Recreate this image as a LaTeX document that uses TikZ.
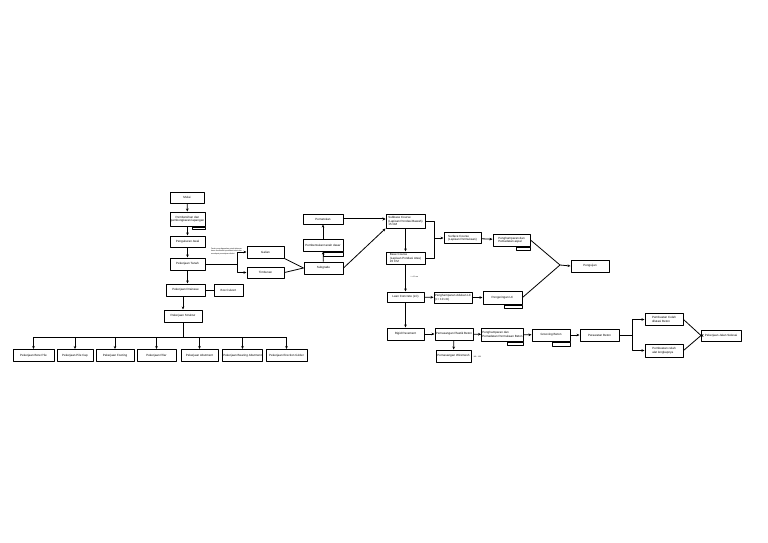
\documentclass[tikz,border=0pt]{standalone}
\usepackage{fontspec}
\setmainfont{Liberation Sans}
\usetikzlibrary{arrows.meta}
\begin{document}
\begin{tikzpicture}[x=1pt,y=-1pt,line join=round,
	kotak/.style={draw,line width=1pt,inner sep=0.8pt,align=center,font=\fontsize{3}{3.5}\selectfont},
	catatan/.style={draw,line width=0.6pt,inner sep=0pt},
	panah/.style={-{Stealth[length=3pt,width=2.6pt]},line width=0.8pt},
	garis/.style={line width=0.8pt},
	kecil/.style={inner sep=0pt,align=left,font=\fontsize{1.8}{2.6}\selectfont}]
	\useasboundingbox (0,0) rectangle (768,543);
	% kolom kiri
	\node[kotak,minimum width=34pt,minimum height=11pt] (mulai) at (187,197.5) {Mulai};
	\node[kotak,minimum width=35pt,minimum height=14pt] (bersih) at (187.5,219) {Pembersihan dan\\pembongkaran lapangan};
	\node[kotak,minimum width=35pt,minimum height=11pt] (ukur) at (187.5,241.5) {Pengukuran Awal};
	\node[kotak,minimum width=35pt,minimum height=12pt] (tanah) at (187.5,264) {Pekerjaan Tanah};
	\node[kotak,minimum width=39pt,minimum height=12pt] (drainase) at (185.5,290) {Pekerjaan Drainase};
	\node[kotak,minimum width=29pt,minimum height=12pt] (culvert) at (228.5,290) {Box Culvert};
	\node[kotak,minimum width=38pt,minimum height=12pt] (struktur) at (183,316) {Pekerjaan Struktur};
	\node[kecil] (ketTanah) at (226.5,251.5) {Tanah yang digunakan untuk timbunan\\harus memenuhi spesifikasi teknis dan\\mendapat persetujuan direksi};
	% pekerjaan struktur
	\foreach \nama/\x/\w/\teks in {borepile/33.5/41/Pekerjaan Bore Pile,pilecap/75/36/Pekerjaan Pile Cap,
		footing/115/38/Pekerjaan Footing,pilar/156.5/39/Pekerjaan Pilar,abutment/199.5/37/Pekerjaan Abutment,
		bearing/242.5/37/Pekerjaan Bearing Abutment,girder/286.5/41/Pekerjaan Erection Girder}{
		\node[kotak,minimum width=\w pt,minimum height=12pt] (\nama) at (\x,355.5) {\teks};
	}
	% tanah dasar
	\node[kotak,minimum width=37pt,minimum height=12pt] (galian) at (265.5,252) {Galian};
	\node[kotak,minimum width=37pt,minimum height=11pt] (timbunan) at (265.5,272.5) {Timbunan};
	\node[kotak,minimum width=39pt,minimum height=12pt] (subgrade) at (323.5,268) {Subgrade};
	\node[kotak,minimum width=40pt,minimum height=12pt] (bentuk) at (323,245) {Pembentukan tanah dasar};
	\node[kotak,minimum width=40pt,minimum height=10pt] (patok) at (323,219) {Pematokan};
	% perkerasan lentur
	\node[kotak,align=left,minimum width=39pt,minimum height=14pt] (subbase) at (405.5,221) {Subbase Course\\(Lapisan Pondasi Bawah)\\15 CM};
	\node[kotak,align=left,minimum width=39pt,minimum height=12pt] (base) at (405.5,258) {Base Course\\(Lapisan Pondasi Atas)\\20 CM};
	\node[kotak,align=left,minimum width=37pt,minimum height=11pt] (surface) at (462.5,238) {Surface Course\\(Lapisan Permukaan)};
	\node[kotak,align=left,minimum width=37pt,minimum height=12pt] (aspal) at (511.5,240) {Penghamparan dan\\Pemadatan aspal};
	\node[kotak,minimum width=38pt,minimum height=12pt] (uji) at (590,266) {Pengujian};
	% lean concrete
	\node[kotak,minimum width=37pt,minimum height=10pt] (lc) at (405.5,297) {Lean Concrete (LC)};
	\node[kotak,align=left,minimum width=38pt,minimum height=11pt] (hamparLC) at (453,297.5) {Penghamparan Adukan LC\\(t = 10 cm)};
	\node[kotak,minimum width=39pt,minimum height=13pt] (kering) at (502.5,297.5) {Pengeringan LC};
	\node[kecil] (ketLC) at (414.5,277) {t = 10 cm};
	% perkerasan kaku
	\node[kotak,minimum width=37pt,minimum height=12pt] (rigid) at (405.5,334) {Rigid Pavement};
	\node[kotak,minimum width=38pt,minimum height=12pt] (plastik) at (454,334) {Pemasangan Plastik Beton};
	\node[kotak,align=left,minimum width=39pt,minimum height=13pt] (padat) at (502.5,334.5) {Penghamparan dan\\Pemadatan Permukaan Beton};
	\node[kotak,minimum width=35pt,minimum height=12pt] (wiremesh) at (453.5,356) {Pemasangan Wiremesh};
	\node[kecil] (ketWM) at (477.5,357) {M8 - 150};
	\node[kotak,minimum width=38pt,minimum height=12pt] (grooving) at (551,335) {Grooving Beton};
	\node[kotak,minimum width=39pt,minimum height=12pt] (rawat) at (599.5,335) {Perawatan Beton};
	\node[kotak,align=left,minimum width=38pt,minimum height=12pt] (celah) at (664,319.5) {Pembuatan Celah\\dilatasi Beton};
	\node[kotak,align=left,minimum width=38pt,minimum height=13pt] (lengkap) at (664,350.5) {Pembuatan celah\\alat lengkapnya};
	\node[kotak,minimum width=40pt,minimum height=11pt] (selesai) at (721,335.5) {Pekerjaan Jalan Selesai};
	% catatan kecil
	\node[catatan,minimum width=13pt,minimum height=2.5pt,anchor=north east] (tabBersih) at (bersih.south east) {};
	\node[catatan,minimum width=20pt,minimum height=4pt,anchor=north east] (tabBentuk) at (bentuk.south east) {};
	\node[catatan,minimum width=14pt,minimum height=3.5pt,anchor=north east] (tabAspal) at (aspal.south east) {};
	\node[catatan,minimum width=18pt,minimum height=3.5pt,anchor=north east] (tabKering) at (kering.south east) {};
	\node[catatan,minimum width=16pt,minimum height=3pt,anchor=north east] (tabPadat) at (padat.south east) {};
	\node[catatan,minimum width=18pt,minimum height=4pt,anchor=north east] (tabGrooving) at (grooving.south east) {};
	% alur kiri
	\draw[panah] (mulai) -- (bersih);
	\draw[panah] (bersih) -- (ukur);
	\draw[panah] (ukur) -- (tanah);
	\draw[panah] (tanah.south) -- (tanah.south |- drainase.north);
	\draw[garis] (drainase) -- (culvert);
	\draw[panah] (drainase.south -| struktur.north) -- (struktur.north);
	\coordinate (bus) at (183,337);
	\draw[garis] (struktur.south) -- (bus);
	\draw[garis] (borepile.north |- bus) -- (girder.north |- bus);
	\foreach \b in {borepile,pilecap,footing,pilar,abutment,bearing,girder}{
		\draw[panah] (\b.north |- bus) -- (\b.north);
	}
	\coordinate (cabangTanah) at (237,264);
	\draw[garis] (tanah.east) -- (cabangTanah);
	\draw[panah] (cabangTanah) |- (galian.west);
	\draw[panah] (cabangTanah) |- (timbunan.west);
	\draw[garis] (galian.south east) -- (subgrade.west);
	\draw[garis] (timbunan.east) -- (subgrade.west);
	\draw[panah] (subgrade) -- (bentuk);
	\draw[panah] (bentuk) -- (patok);
	\draw[double,double distance=0.8pt,line width=0.4pt,-{Stealth[length=3pt,width=3pt]}] (patok.east) -- (subbase.west |- patok.east);
	\draw[panah] (subgrade.east) -- (subbase.south west);
	% perkerasan lentur
	\draw[panah] (subbase) -- (base);
	\coordinate (kurungSB) at (434,238);
	\draw[garis] (subbase.east) -| (kurungSB);
	\draw[garis] (base.east) -| (kurungSB);
	\draw[panah] (kurungSB) -- (surface.west);
	\draw[panah] (surface) -- (aspal);
	\coordinate (temuUji) at (560,265);
	\draw[garis] (aspal.east) -- (temuUji);
	\draw[garis] (kering.east) -- (temuUji);
	\draw[panah] (temuUji) -- (uji.west);
	% lean concrete dan rigid
	\draw[panah] (base) -- (lc);
	\draw[panah] (lc) -- (hamparLC);
	\draw[panah] (hamparLC) -- (kering);
	\draw[panah] (lc) -- (rigid);
	\draw[panah] (rigid) -- (plastik);
	\draw[panah] (plastik) -- (padat);
	\draw[panah] (plastik) -- (wiremesh);
	\draw[panah] (padat) -- (grooving);
	\draw[panah] (grooving) -- (rawat);
	\coordinate (cabangRawat) at (632,335);
	\draw[garis] (rawat.east) -- (cabangRawat);
	\draw[panah] (cabangRawat) |- (celah.west);
	\draw[panah] (cabangRawat) |- (lengkap.west);
	\coordinate (temuSelesai) at (701,335.5);
	\draw[garis] (celah.east) -- (temuSelesai);
	\draw[garis] (lengkap.east) -- (temuSelesai);
	\draw[panah] (temuSelesai) -- (selesai.west);
\end{tikzpicture}
\end{document}
